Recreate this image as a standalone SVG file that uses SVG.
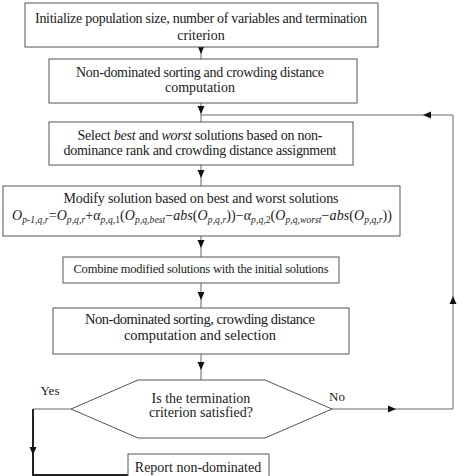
<svg xmlns="http://www.w3.org/2000/svg" width="474" height="476" viewBox="0 0 474 476">
<style>
.box{fill:#fff;stroke:#555;stroke-width:1}
.ln{fill:none;stroke:#666;stroke-width:1}
.thick{fill:none;stroke:#222;stroke-width:2}
.t{font-family:"Liberation Serif","Times New Roman",serif;font-size:14px;fill:#1a1a1a;text-anchor:middle}
.f{font-family:"Liberation Serif","Times New Roman",serif;font-size:14px;fill:#1a1a1a}
.i{font-style:italic}
.s{font-size:9.5px;font-style:italic}
.su{font-size:9.5px}
.ah{fill:#111}
</style>
<defs>
<path id="ah" d="M-3.5,-8 L3.5,-8 L0,0 Z"/>
</defs>
<rect width="474" height="476" fill="#fff"/>
<g id="connectors">
<line class="ln" x1="201" y1="47" x2="201" y2="59"/>
<line class="ln" x1="201" y1="103" x2="201" y2="122"/>
<line class="ln" x1="201" y1="165" x2="201" y2="186"/>
<line class="ln" x1="201" y1="236" x2="201" y2="257"/>
<line class="ln" x1="201" y1="283" x2="201" y2="308"/>
<line class="ln" x1="201" y1="354" x2="201" y2="380"/>
<polyline class="ln" points="332,409 453,409 453,115 201,115"/>
<line class="ln" x1="71" y1="409" x2="33" y2="409"/>
<polyline class="thick" points="33,409 33,475 128,475"/>
<use href="#ah" class="ah" transform="translate(201,54)"/>
<use href="#ah" class="ah" transform="translate(201,114)"/>
<use href="#ah" class="ah" transform="translate(201,178)"/>
<use href="#ah" class="ah" transform="translate(201,248)"/>
<use href="#ah" class="ah" transform="translate(201,300)"/>
<use href="#ah" class="ah" transform="translate(201,370)"/>
<use href="#ah" class="ah" transform="translate(33,455)"/>
<use href="#ah" class="ah" transform="translate(396,409) rotate(-90)"/>
<use href="#ah" class="ah" transform="translate(453,296) rotate(180)"/>
<use href="#ah" class="ah" transform="translate(423,115) rotate(90)"/>
<text class="t" x="50" y="395" style="font-size:13px">Yes</text>
<text class="t" x="337" y="401" style="font-size:13px">No</text>
</g>
<g id="init">
<rect class="box" x="25" y="3" width="353" height="44"/>
<text class="t" x="201" y="23" textLength="332">Initialize population size, number of variables and termination</text>
<text class="t" x="201" y="40">criterion</text>
</g>
<g id="sort1">
<rect class="box" x="49" y="59" width="308" height="44"/>
<text class="t" x="200" y="77" textLength="248">Non-dominated sorting and crowding distance</text>
<text class="t" x="200" y="92">computation</text>
</g>
<g id="select">
<rect class="box" x="49" y="122" width="304" height="43"/>
<text class="t" x="200" y="140" textLength="245">Select <tspan class="i">best</tspan> and <tspan class="i">worst</tspan> solutions based on non-</text>
<text class="t" x="200" y="155" textLength="273">dominance rank and crowding distance assignment</text>
</g>
<g id="modify">
<rect class="box" x="3" y="186" width="397" height="50"/>
<text class="t" x="201" y="203" textLength="275">Modify solution based on best and worst solutions</text>
<text class="f" x="12" y="220" textLength="380"><tspan class="i">O</tspan><tspan class="s" dy="3">p-1,q,r</tspan><tspan dy="-3">=</tspan><tspan class="i">O</tspan><tspan class="s" dy="3">p,q,r</tspan><tspan dy="-3">+</tspan><tspan class="i">α</tspan><tspan class="s" dy="3">p,q,</tspan><tspan class="su">1</tspan><tspan dy="-3">(</tspan><tspan class="i">O</tspan><tspan class="s" dy="3">p,q,best</tspan><tspan dy="-3">−</tspan><tspan class="i">abs</tspan>(<tspan class="i">O</tspan><tspan class="s" dy="3">p,q,r</tspan><tspan dy="-3">))−</tspan><tspan class="i">α</tspan><tspan class="s" dy="3">p,q,</tspan><tspan class="su">2</tspan><tspan dy="-3">(</tspan><tspan class="i">O</tspan><tspan class="s" dy="3">p,q,worst</tspan><tspan dy="-3">−</tspan><tspan class="i">abs</tspan>(<tspan class="i">O</tspan><tspan class="s" dy="3">p,q,r</tspan><tspan dy="-3">))</tspan></text>
</g>
<g id="combine">
<rect class="box" x="63" y="257" width="276" height="26"/>
<text class="t" x="201" y="273" textLength="255" style="font-size:12.5px">Combine modified solutions with the initial solutions</text>
</g>
<g id="sort2">
<rect class="box" x="53" y="308" width="296" height="46"/>
<text class="t" x="200" y="324" textLength="230" style="font-size:14.5px">Non-dominated sorting, crowding distance</text>
<text class="t" x="200" y="340" style="font-size:14.5px">computation and selection</text>
</g>
<g id="decision">
<polygon class="box" points="71,409 138,380 265,380 332,409 265,438 138,438"/>
<text class="t" x="201" y="403">Is the termination</text>
<text class="t" x="201" y="417">criterion satisfied?</text>
</g>
<g id="report">
<rect class="box" x="128" y="454" width="141" height="30"/>
<text class="t" x="198" y="472">Report non-dominated</text>
</g>
</svg>
